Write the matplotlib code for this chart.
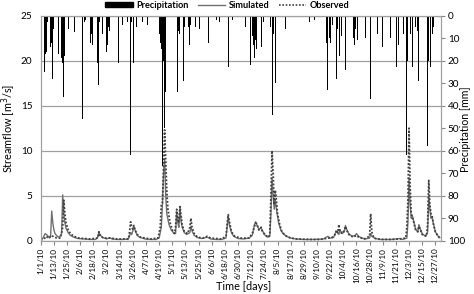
import matplotlib
matplotlib.use("Agg")
import matplotlib.pyplot as plt
from matplotlib.patches import Patch
from matplotlib.lines import Line2D

plt.rcParams['font.family'] = ['Lato', 'DejaVu Sans']

# day of year (0 = 1/1/10) and simulated streamflow [m3/s]
sim_days = [0, 2, 4, 6, 8, 9, 10, 11, 12, 13, 15, 17, 19, 20, 21, 22, 23, 25, 27, 30, 34, 40, 45, 50,
            52, 53, 54, 56, 60, 63, 65, 70, 75, 80, 82, 83, 85, 86, 88, 90, 95, 100, 105, 108, 110,
            111, 112, 113, 114, 115, 117, 119, 121, 123, 124, 125, 126, 127, 128, 129, 131, 133, 136,
            137, 138, 140, 143, 147, 152, 155, 160, 165, 169, 170, 171, 172, 174, 176, 180, 185, 190,
            193, 195, 196, 197, 199, 201, 202, 204, 207, 209, 210, 211, 212, 213, 214, 215, 217, 219,
            221, 224, 228, 233, 240, 250, 258, 262, 264, 267, 269, 270, 272, 273, 275, 277, 278, 279,
            281, 284, 287, 288, 290, 293, 296, 300, 301, 302, 305, 310, 315, 320, 324, 327, 330, 334,
            335, 336, 337, 338, 339, 340, 342, 344, 345, 346, 348, 351, 353, 354, 355, 356, 357, 358,
            360, 362, 364]
sim_q = [0.15, 0.3, 0.8, 0.6, 0.3, 0.5, 3.3, 2.0, 1.2, 0.8, 0.5, 0.4, 0.8, 5.1, 3.0, 2.0, 1.4, 0.9, 0.6,
         0.4, 0.25, 0.2, 0.15, 0.15, 0.4, 1.0, 0.7, 0.4, 0.2, 0.35, 0.2, 0.15, 0.15, 0.2, 0.9, 0.7, 1.5,
         1.2, 0.6, 0.4, 0.2, 0.15, 0.15, 0.3, 1.5, 4.0, 7.5, 9.0, 5.0, 3.0, 1.8, 1.2, 0.9, 0.8, 3.2, 2.0,
         1.5, 3.6, 2.2, 1.5, 0.9, 0.7, 0.9, 1.6, 1.1, 0.6, 0.35, 0.25, 0.4, 0.2, 0.15, 0.15, 0.3, 1.5,
         2.7, 1.8, 0.9, 0.5, 0.25, 0.2, 0.3, 0.6, 1.8, 2.1, 1.8, 1.3, 1.4, 1.2, 0.7, 0.4, 0.5, 3.0, 7.0,
         5.0, 3.5, 4.5, 3.5, 2.0, 1.2, 0.8, 0.5, 0.3, 0.2, 0.15, 0.15, 0.2, 0.5, 0.3, 0.35, 0.9, 1.0,
         0.7, 1.2, 0.8, 1.0, 1.7, 1.3, 0.8, 0.5, 0.6, 0.8, 0.5, 0.3, 0.2, 0.3, 0.8, 0.5, 0.25, 0.15,
         0.15, 0.15, 0.2, 0.25, 0.15, 0.3, 2.0, 7.0, 4.0, 2.5, 2.8, 2.3, 1.3, 1.0, 1.8, 1.4, 0.8, 0.5,
         1.0, 5.0, 3.5, 2.5, 2.7, 2.0, 1.0, 0.6, 0.35]

# observed streamflow [m3/s]
obs_days = [0, 3, 5, 7, 10, 12, 15, 18, 20, 21, 22, 23, 25, 27, 30, 35, 45, 52, 53, 54, 57, 63, 70, 80,
            81, 82, 83, 84, 85, 86, 88, 91, 100, 107, 109, 110, 111, 112, 113, 114, 115, 116, 118, 120,
            122, 123, 124, 125, 126, 127, 128, 129, 131, 134, 136, 137, 138, 140, 143, 148, 152, 155,
            165, 169, 170, 171, 172, 174, 177, 182, 190, 193, 195, 196, 197, 199, 201, 202, 205, 208,
            209, 210, 211, 212, 213, 214, 215, 216, 218, 220, 223, 227, 233, 245, 255, 262, 265, 268,
            270, 271, 272, 273, 275, 277, 278, 279, 281, 285, 288, 290, 295, 300, 301, 302, 304, 310,
            320, 327, 333, 334, 335, 336, 337, 338, 339, 340, 342, 344, 345, 346, 348, 352, 353, 354,
            355, 356, 357, 358, 360, 362, 364]
obs_q = [0.1, 0.2, 0.5, 0.3, 0.6, 0.4, 0.3, 0.3, 1.5, 4.5, 3.0, 2.0, 1.2, 0.8, 0.5, 0.3, 0.2, 0.3, 1.0,
         0.6, 0.3, 0.3, 0.2, 0.2, 1.0, 2.1, 1.5, 1.3, 1.7, 1.2, 0.7, 0.4, 0.2, 0.3, 1.5, 4.0, 4.2, 8.0,
         12.3, 9.0, 5.5, 3.5, 2.0, 1.2, 0.8, 1.5, 3.5, 2.5, 2.0, 3.8, 2.8, 1.8, 1.0, 0.8, 1.5, 2.5, 1.5,
         0.8, 0.4, 0.3, 0.5, 0.3, 0.2, 0.5, 1.8, 2.9, 2.2, 1.0, 0.5, 0.3, 0.3, 0.8, 1.6, 2.0, 1.9, 1.2,
         1.5, 1.1, 0.6, 0.4, 0.8, 5.0, 10.0, 7.5, 4.0, 5.6, 4.5, 3.0, 1.8, 1.0, 0.6, 0.35, 0.2, 0.15,
         0.15, 0.3, 0.3, 0.6, 1.2, 0.9, 1.8, 1.0, 0.8, 1.2, 1.6, 1.2, 0.7, 0.4, 0.6, 0.4, 0.2, 0.5, 3.0,
         1.0, 0.3, 0.15, 0.15, 0.2, 0.3, 1.5, 4.5, 12.5, 6.0, 3.0, 2.6, 2.2, 1.2, 1.0, 1.6, 1.3, 0.7,
         0.5, 2.0, 6.7, 4.0, 3.0, 2.8, 2.0, 1.0, 0.6, 0.3]

# daily precipitation [mm]
rain_days = [3, 4, 5, 6, 9, 10, 11, 12, 16, 19, 20, 21, 22, 25, 31, 38, 40, 41, 45, 46, 47, 52, 53, 54,
             56, 60, 61, 62, 63, 71, 75, 79, 82, 83, 85, 87, 93, 97, 108, 109, 110, 111, 112, 113, 114,
             117, 125, 126, 127, 130, 131, 135, 136, 137, 141, 145, 153, 160, 163, 171, 175, 187, 191,
             193, 194, 195, 196, 197, 201, 203, 210, 211, 212, 214, 223, 245, 250, 261, 262, 263, 264,
             266, 270, 271, 273, 274, 278, 285, 286, 287, 289, 296, 301, 307, 312, 319, 325, 326, 331,
             334, 335, 337, 339, 342, 344, 345, 346, 353, 354, 356, 357, 358]
rain_mm = [25, 17, 16, 3, 14, 12, 28, 6, 17, 19, 21, 36, 18, 6, 7.5, 46, 3, 2, 12, 8, 13, 21, 31, 3,
           8, 16, 13, 5, 7, 21, 4, 3, 62, 3, 21, 5, 3, 4, 8, 12, 15, 67, 20, 50, 34,
           2, 34, 7, 8, 29, 5, 5, 13, 4, 5, 6, 12, 2, 3, 23, 2, 5, 22,
           9, 13, 19, 11, 15, 14, 3, 5, 44, 8, 30, 6, 3, 2, 12, 33, 10, 12,
           4, 28, 6, 18, 9, 24, 10, 13, 6, 11, 10, 37, 8, 14, 10, 23, 13, 8,
           62, 20, 8, 23, 5, 7, 29, 7, 58, 20, 23, 8, 5]

tick_days = list(range(0, 361, 12))
tick_labels = ['1/1/10', '1/13/10', '1/25/10', '2/6/10', '2/18/10', '3/2/10', '3/14/10', '3/26/10',
               '4/7/10', '4/19/10', '5/1/10', '5/13/10', '5/25/10', '6/6/10', '6/18/10', '6/30/10',
               '7/12/10', '7/24/10', '8/5/10', '8/17/10', '8/29/10', '9/10/10', '9/22/10', '10/4/10',
               '10/16/10', '10/28/10', '11/9/10', '11/21/10', '12/3/10', '12/15/10', '12/27/10']

fig = plt.figure(figsize=(4.74, 2.94), dpi=100)
ax = fig.add_axes([0.086, 0.181, 0.844, 0.766])

ax.plot(sim_days, sim_q, color='#707070', lw=1.0, zorder=3)
ax.plot(obs_days, obs_q, color='#404040', lw=1.3, ls=(0, (1, 1)), zorder=4)
ax.set_xlim(0, 365)
ax.set_ylim(0, 25)
ax.set_yticks([0, 5, 10, 15, 20, 25])
ax.set_xticks(tick_days)
ax.set_xticklabels(tick_labels, rotation=90, fontsize=5.9)
ax.tick_params(axis='y', labelsize=7.2, length=0, pad=6)
ax.tick_params(axis='x', length=3, color='#888888', pad=2)
ax.grid(axis='y', color='#a0a0a0', lw=0.9)
ax.set_axisbelow(True)
for s in ax.spines.values():
    s.set_color('#a0a0a0')
ax.set_ylabel('Streamflow [m$^3$/s]', fontsize=7.8, labelpad=2)
fig.text(0.515, 0.008, 'Time [days]', fontsize=7.8, ha='center', va='bottom')

ax2 = ax.twinx()
ax2.bar(rain_days, rain_mm, width=0.9, color='black', align='center', zorder=2)
ax2.set_ylim(100, 0)
ax2.set_yticks(range(0, 101, 10))
ax2.tick_params(axis='y', labelsize=7.2, length=3, color='#888888', pad=2)
for s in ax2.spines.values():
    s.set_color('#a0a0a0')
fig.text(0.983, 0.56, 'Precipitation [mm]', fontsize=7.6, rotation=90, ha='center', va='center')

handles = [Patch(color='black'),
           Line2D([], [], color='#707070', lw=1.0),
           Line2D([], [], color='#404040', lw=1.2, ls=(0, (1, 1)))]
fig.legend(handles, ['Precipitation', 'Simulated', 'Observed'], loc='center',
           bbox_to_anchor=(0.48, 0.982), ncol=3, frameon=False,
           prop={'size': 6.6, 'weight': 'bold'},
           handlelength=3.0, handleheight=0.6, columnspacing=1.0, handletextpad=0.4,
           borderpad=0, borderaxespad=0)

fig.savefig('out.png', dpi=100)
